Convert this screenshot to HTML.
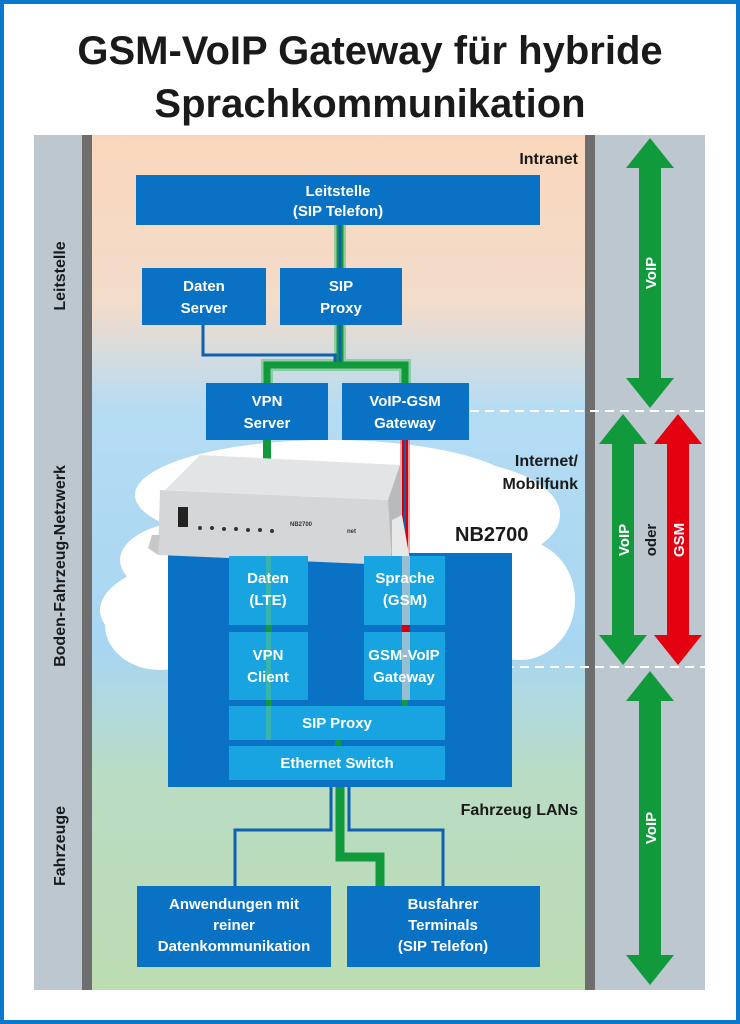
<!DOCTYPE html>
<html><head><meta charset="utf-8"><style>
html,body{margin:0;padding:0;background:#fff}
svg{display:block}
text{font-family:"Liberation Sans",sans-serif;font-weight:bold}
</style></head><body>
<svg width="740" height="1024" viewBox="0 0 740 1024" xmlns="http://www.w3.org/2000/svg">
<defs>
<linearGradient id="bg" x1="0" y1="0" x2="0" y2="1">
<stop offset="0" stop-color="#fad7bc"/>
<stop offset="0.2" stop-color="#f2dccb"/>
<stop offset="0.32" stop-color="#b5dcf3"/>
<stop offset="0.6" stop-color="#a8d6f2"/>
<stop offset="0.75" stop-color="#b9dcc4"/>
<stop offset="1" stop-color="#bcdcb2"/>
</linearGradient>
<clipPath id="main"><rect x="92" y="135" width="493" height="855"/></clipPath>
</defs>
<rect x="0" y="0" width="740" height="1024" fill="#fff"/>
<rect x="2" y="2" width="736" height="1020" fill="none" stroke="#0a78cc" stroke-width="4"/>
<text x="370" y="64" font-size="40" text-anchor="middle" fill="#1a1a1a">GSM-VoIP Gateway für hybride</text>
<text x="370" y="117" font-size="40" text-anchor="middle" fill="#1a1a1a">Sprachkommunikation</text>
<!-- columns -->
<rect x="34" y="135" width="48" height="855" fill="#bcc7d0"/>
<rect x="82" y="135" width="10" height="855" fill="#6e6e6e"/>
<rect x="92" y="135" width="493" height="855" fill="url(#bg)"/>
<rect x="585" y="135" width="10" height="855" fill="#6e6e6e"/>
<rect x="595" y="135" width="110" height="855" fill="#bcc7d0"/>
<text transform="translate(65,276) rotate(-90)" font-size="16" text-anchor="middle" fill="#1a1a1a">Leitstelle</text>
<text transform="translate(65,566) rotate(-90)" font-size="16" text-anchor="middle" fill="#1a1a1a">Boden-Fahrzeug-Netzwerk</text>
<text transform="translate(65,846) rotate(-90)" font-size="16" text-anchor="middle" fill="#1a1a1a">Fahrzeuge</text>
<!-- cloud -->
<g fill="#fff" clip-path="url(#main)">
<ellipse cx="330" cy="495" rx="195" ry="55"/>
<ellipse cx="320" cy="610" rx="220" ry="70"/>
<ellipse cx="440" cy="515" rx="120" ry="55"/>
<ellipse cx="200" cy="560" rx="80" ry="40"/>
<ellipse cx="520" cy="600" rx="55" ry="60"/>
<ellipse cx="160" cy="625" rx="55" ry="45"/>
</g>
<!-- labels -->
<text x="578" y="164" font-size="16" text-anchor="end" fill="#1a1a1a">Intranet</text>
<text x="578" y="466" font-size="16" text-anchor="end" fill="#1a1a1a">Internet/</text>
<text x="578" y="489" font-size="16" text-anchor="end" fill="#1a1a1a">Mobilfunk</text>
<text x="578" y="815" font-size="16" text-anchor="end" fill="#1a1a1a">Fahrzeug LANs</text>
<text x="455" y="541" font-size="20" fill="#1a1a1a">NB2700</text>
<!-- dashed -->
<line x1="470" y1="411" x2="705" y2="411" stroke="#fff" stroke-width="2" stroke-dasharray="9,6"/>
<line x1="445" y1="667" x2="705" y2="667" stroke="#fff" stroke-width="2" stroke-dasharray="9,6"/>
<!-- connectors top -->
<g fill="none" stroke-linejoin="miter">
<path d="M340 225 V268 M340 325 V365 M267 383 V365 H405 V383" stroke="#5fc07a" stroke-width="12" opacity="0.6"/>
<path d="M340 225 V268 M340 325 V365 M267 383 V365 H405 V383" stroke="#119a3c" stroke-width="7"/>
<path d="M340 225 V268 M340 325 V362" stroke="#1060b0" stroke-width="3"/>
<path d="M203 325 V355 H335 V362" stroke="#1060b0" stroke-width="3"/>
<path d="M267 440 V470" stroke="#119a3c" stroke-width="8"/>
<path d="M405 440 V556" stroke="#f06060" stroke-width="10" opacity="0.6"/>
<path d="M405 440 V556" stroke="#d8000c" stroke-width="6"/>
<path d="M405 440 V556" stroke="#1060b0" stroke-width="2"/>
</g>
<!-- boxes -->
<g fill="#0a72c4">
<rect x="136" y="175" width="404" height="50"/>
<rect x="142" y="268" width="124" height="57"/>
<rect x="280" y="268" width="122" height="57"/>
<rect x="206" y="383" width="122" height="57"/>
<rect x="342" y="383" width="127" height="57"/>
<rect x="168" y="553" width="344" height="234"/>
<rect x="137" y="886" width="194" height="81"/>
<rect x="347" y="886" width="193" height="81"/>
</g>
<!-- router -->
<g>
<polygon points="165,490 200,455 400,465 388,500" fill="#e2e4e6"/>
<polygon points="160,490 388,500 392,565 158,555" fill="#d4d6d8"/>
<polygon points="388,500 400,465 402,530 392,565" fill="#b8babc"/>
<polygon points="152,535 160,535 158,555 148,548" fill="#c8c8c8"/>
<polygon points="392,520 402,515 410,560 392,565" fill="#e8e8e8"/>
<rect x="178" y="507" width="10" height="20" fill="#222"/>
<g fill="#333"><circle cx="200" cy="528" r="2"/><circle cx="212" cy="528" r="2"/><circle cx="224" cy="529" r="2"/><circle cx="236" cy="529" r="2"/><circle cx="248" cy="530" r="2"/><circle cx="260" cy="530" r="2"/><circle cx="272" cy="531" r="2"/></g>
<text x="290" y="526" font-size="6" fill="#333">NB2700</text>
<text x="347" y="533" font-size="6" fill="#333">net</text>
</g>
<!-- inner -->
<g fill="#18a4e0">
<rect x="229" y="556" width="79" height="69"/>
<rect x="364" y="556" width="81" height="69"/>
<rect x="229" y="632" width="79" height="68"/>
<rect x="364" y="632" width="81" height="68"/>
<rect x="229" y="706" width="216" height="34"/>
<rect x="229" y="746" width="216" height="34"/>
</g>
<g>
<rect x="266" y="556" width="5" height="184" fill="#4cc08a" opacity="0.6"/>
<rect x="402" y="556" width="8" height="144" fill="#c0c8d0" opacity="0.75"/>
<rect x="402" y="625" width="8" height="7" fill="#d8000c"/>
<rect x="266" y="625" width="6" height="7" fill="#119a3c"/>
<rect x="266" y="700" width="6" height="6" fill="#119a3c"/>
<rect x="402" y="700" width="6" height="6" fill="#119a3c"/>
<rect x="335" y="740" width="6" height="6" fill="#119a3c"/>
</g>
<!-- bottom connectors -->
<g fill="none">
<path d="M340 787 V857 H380 V886" stroke="#119a3c" stroke-width="9"/>
<path d="M331 787 V830 H235 V886" stroke="#1060b0" stroke-width="3"/>
<path d="M349 787 V830 H443 V886" stroke="#1060b0" stroke-width="3"/>
</g>
<!-- box text -->
<g fill="#fff" font-size="15" text-anchor="middle">
<text x="338" y="196">Leitstelle</text><text x="338" y="216">(SIP Telefon)</text>
<text x="204" y="291">Daten</text><text x="204" y="313">Server</text>
<text x="341" y="291">SIP</text><text x="341" y="313">Proxy</text>
<text x="267" y="406">VPN</text><text x="267" y="428">Server</text>
<text x="405" y="406">VoIP-GSM</text><text x="405" y="428">Gateway</text>
<text x="268" y="583">Daten</text><text x="268" y="605">(LTE)</text>
<text x="405" y="583">Sprache</text><text x="405" y="605">(GSM)</text>
<text x="268" y="660">VPN</text><text x="268" y="682">Client</text>
<text x="404" y="660">GSM-VoIP</text><text x="404" y="682">Gateway</text>
<text x="337" y="728">SIP Proxy</text>
<text x="337" y="768">Ethernet Switch</text>
<text x="234" y="909">Anwendungen mit</text><text x="234" y="930">reiner</text><text x="234" y="951">Datenkommunikation</text>
<text x="443" y="909">Busfahrer</text><text x="443" y="930">Terminals</text><text x="443" y="951">(SIP Telefon)</text>
</g>
<!-- right arrows -->
<g fill="#119a3c">
<polygon points="650,138 674,168 661,168 661,378 674,378 650,408 626,378 639,378 639,168 626,168"/>
<polygon points="623,414 647,444 634,444 634,635 647,635 623,665 599,635 612,635 612,444 599,444"/>
<polygon points="650,671 674,701 661,701 661,955 674,955 650,985 626,955 639,955 639,701 626,701"/>
</g>
<polygon fill="#e3000f" points="678,414 702,444 689,444 689,635 702,635 678,665 654,635 667,635 667,444 654,444"/>
<g font-size="15" text-anchor="middle">
<text transform="translate(656,273) rotate(-90)" fill="#fff">VoIP</text>
<text transform="translate(629,540) rotate(-90)" fill="#fff">VoIP</text>
<text transform="translate(684,540) rotate(-90)" fill="#fff">GSM</text>
<text transform="translate(656,540) rotate(-90)" fill="#1a1a1a">oder</text>
<text transform="translate(656,828) rotate(-90)" fill="#fff">VoIP</text>
</g>
</svg>
</body></html>
